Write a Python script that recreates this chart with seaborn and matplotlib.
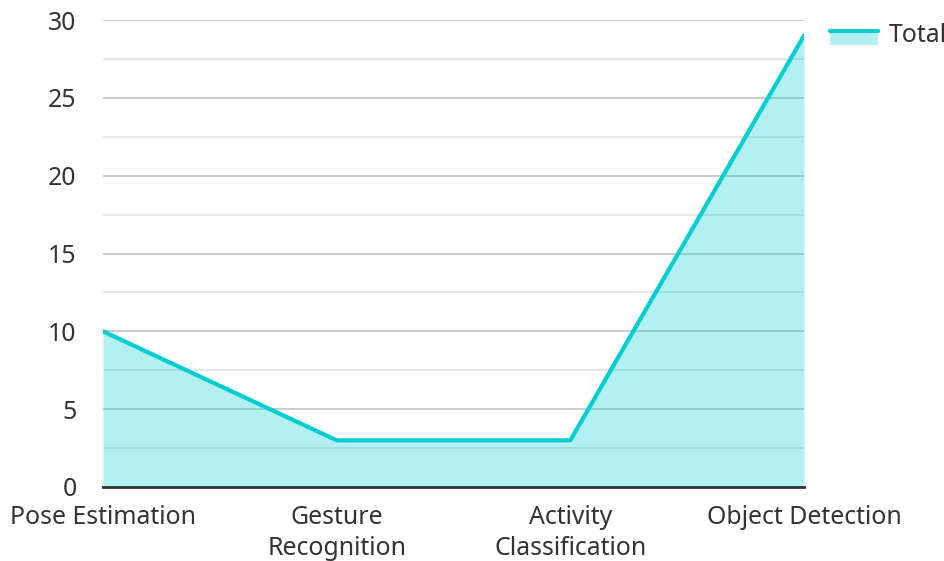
import matplotlib
matplotlib.use("Agg")
import matplotlib.pyplot as plt
import matplotlib.patches as mpatches
import matplotlib.lines as mlines
from matplotlib.legend_handler import HandlerBase
from matplotlib.ticker import MultipleLocator
import seaborn as sns
import pandas as pd

categories = ["Pose Estimation", "Gesture\nRecognition", "Activity\nClassification", "Object Detection"]
totals = [10, 3, 3, 29]
series_name = "Total"

LINE_COLOR = "#00CED1"
FILL_ALPHA = 0.3
TEXT_COLOR = "#333333"
FONT_SIZE = 17.9

sns.set_theme(style="white")
plt.rcParams["font.family"] = ["Noto Sans", "DejaVu Sans"]

df = pd.DataFrame({"pos": range(len(categories)), "value": totals})

fig = plt.figure(figsize=(9.45, 5.61), dpi=100)
ax = fig.add_axes([103 / 945, 1 - 487 / 561, (804 - 103) / 945, (487 - 20) / 561])

# translucent area sits above the grid, so gridlines show through it
ax.fill_between(df["pos"], df["value"], 0, color=LINE_COLOR, alpha=FILL_ALPHA,
                linewidth=0, zorder=2)
sns.lineplot(data=df, x="pos", y="value", ax=ax, color=LINE_COLOR, linewidth=3,
             zorder=3, legend=False)

ax.set_xlim(0, len(categories) - 1)
ax.set_ylim(0, 30)
ax.yaxis.set_major_locator(MultipleLocator(5))
ax.yaxis.set_minor_locator(MultipleLocator(2.5))
ax.set_axisbelow(True)
ax.grid(which="major", axis="y", color="#CCCCCC", linewidth=1.4)
ax.grid(which="minor", axis="y", color="#E6E6E6", linewidth=1.4)
ax.grid(axis="x", visible=False)

ax.set_xticks(range(len(categories)))
ax.set_xticklabels(categories, linespacing=1.32)
ax.tick_params(axis="both", which="both", length=0, labelsize=FONT_SIZE,
               labelcolor=TEXT_COLOR)
ax.tick_params(axis="y", pad=19)
ax.tick_params(axis="x", pad=13)
ax.set_xlabel("")
ax.set_ylabel("")

for side in ("left", "right", "top"):
    ax.spines[side].set_visible(False)
ax.spines["bottom"].set_color(TEXT_COLOR)
ax.spines["bottom"].set_linewidth(2)
ax.spines["bottom"].set_zorder(4)


class AreaLineHandler(HandlerBase):
    def create_artists(self, legend, orig_handle, xdescent, ydescent,
                       width, height, fontsize, trans):
        ymid = height * 0.62 - ydescent
        rect = mpatches.Rectangle((-xdescent, -ydescent - height * 0.15),
                                  width, ymid + ydescent + height * 0.15,
                                  facecolor=LINE_COLOR, alpha=FILL_ALPHA,
                                  edgecolor="none", transform=trans)
        line = mlines.Line2D([-xdescent, -xdescent + width], [ymid, ymid],
                             color=LINE_COLOR, linewidth=3, transform=trans)
        return [rect, line]


handle = mpatches.Patch(label=series_name)
fig.legend(handles=[handle], labels=[series_name], loc="upper left",
           bbox_to_anchor=(830 / 945, 1 - 23 / 561), frameon=False,
           handler_map={mpatches.Patch: AreaLineHandler()},
           fontsize=FONT_SIZE, labelcolor=TEXT_COLOR, handlelength=1.95,
           handletextpad=0.4, borderaxespad=0, borderpad=0)

fig.savefig("out.png", dpi=100, facecolor="white")
